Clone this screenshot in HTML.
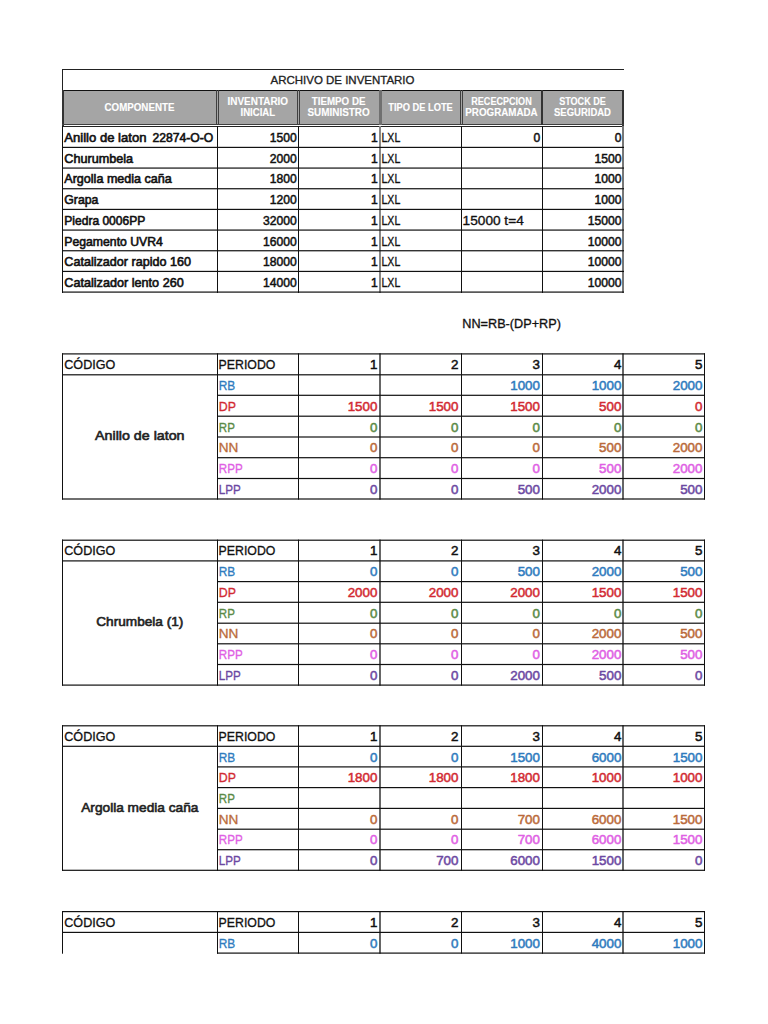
<!DOCTYPE html>
<html><head><meta charset="utf-8">
<style>
html,body{margin:0;padding:0;background:#fff;}
body{width:768px;height:1024px;overflow:hidden;}
svg{display:block;font-family:"Liberation Sans",sans-serif;}
</style></head>
<body>
<svg width="768" height="1024" viewBox="0 0 768 1024" xml:space="preserve" style="white-space:pre">
<rect x="62" y="69.00" width="562" height="1.00" fill="#222"/>
<rect x="62" y="69.00" width="1" height="22.00" fill="#222"/>
<rect x="62" y="90.00" width="562" height="1.00" fill="#111"/>
<text x="342.50" y="84.10" font-size="11.80" fill="#222" stroke="#222" stroke-width="0.32" text-anchor="middle" textLength="143.99" lengthAdjust="spacingAndGlyphs">ARCHIVO DE INVENTARIO</text>
<rect x="63" y="91.00" width="559" height="33.00" fill="#A5A5A5"/>
<rect x="62" y="90.00" width="2" height="37.00" fill="#333"/>
<rect x="622" y="90.00" width="2" height="37.00" fill="#333"/>
<rect x="62" y="124.00" width="562" height="1.00" fill="#3f3f3f"/>
<rect x="62" y="126.00" width="562" height="1.00" fill="#222"/>
<rect x="216" y="90.00" width="1" height="35.00" fill="#3f3f3f"/>
<rect x="218" y="90.00" width="1" height="35.00" fill="#3f3f3f"/>
<rect x="297" y="90.00" width="1" height="35.00" fill="#3f3f3f"/>
<rect x="299" y="90.00" width="1" height="35.00" fill="#3f3f3f"/>
<rect x="460" y="90.00" width="1" height="35.00" fill="#3f3f3f"/>
<rect x="462" y="90.00" width="1" height="35.00" fill="#3f3f3f"/>
<rect x="379" y="90.00" width="3" height="35.00" fill="#707070"/>
<rect x="541" y="90.00" width="2" height="35.00" fill="#333"/>
<text x="139.50" y="111.00" font-size="10.03" font-weight="bold" fill="#fff" stroke="#fff" stroke-width="0.12" text-anchor="middle" textLength="69.85" lengthAdjust="spacingAndGlyphs">COMPONENTE</text>
<text x="257.80" y="104.70" font-size="10.03" font-weight="bold" fill="#fff" stroke="#fff" stroke-width="0.12" text-anchor="middle" textLength="60.60" lengthAdjust="spacingAndGlyphs">INVENTARIO</text>
<text x="257.80" y="115.70" font-size="10.03" font-weight="bold" fill="#fff" stroke="#fff" stroke-width="0.12" text-anchor="middle" textLength="34.63" lengthAdjust="spacingAndGlyphs">INICIAL</text>
<text x="338.60" y="104.70" font-size="10.03" font-weight="bold" fill="#fff" stroke="#fff" stroke-width="0.12" text-anchor="middle" textLength="53.76" lengthAdjust="spacingAndGlyphs">TIEMPO DE</text>
<text x="338.60" y="115.70" font-size="10.03" font-weight="bold" fill="#fff" stroke="#fff" stroke-width="0.12" text-anchor="middle" textLength="62.16" lengthAdjust="spacingAndGlyphs">SUMINISTRO</text>
<text x="420.50" y="111.00" font-size="10.03" font-weight="bold" fill="#fff" stroke="#fff" stroke-width="0.12" text-anchor="middle" textLength="64.58" lengthAdjust="spacingAndGlyphs">TIPO DE LOTE</text>
<text x="501.50" y="104.70" font-size="10.03" font-weight="bold" fill="#fff" stroke="#fff" stroke-width="0.12" text-anchor="middle" textLength="60.46" lengthAdjust="spacingAndGlyphs">RECECPCION</text>
<text x="501.50" y="115.70" font-size="10.03" font-weight="bold" fill="#fff" stroke="#fff" stroke-width="0.12" text-anchor="middle" textLength="72.36" lengthAdjust="spacingAndGlyphs">PROGRAMADA</text>
<text x="582.50" y="104.70" font-size="10.03" font-weight="bold" fill="#fff" stroke="#fff" stroke-width="0.12" text-anchor="middle" textLength="46.70" lengthAdjust="spacingAndGlyphs">STOCK DE</text>
<text x="582.50" y="115.70" font-size="10.03" font-weight="bold" fill="#fff" stroke="#fff" stroke-width="0.12" text-anchor="middle" textLength="56.97" lengthAdjust="spacingAndGlyphs">SEGURIDAD</text>
<rect x="62" y="126.00" width="1" height="167.00" fill="#111"/>
<rect x="217" y="126.00" width="1" height="167.00" fill="#111"/>
<rect x="298" y="126.00" width="1" height="167.00" fill="#111"/>
<rect x="461" y="126.00" width="1" height="167.00" fill="#111"/>
<rect x="542" y="126.00" width="1" height="167.00" fill="#111"/>
<rect x="379" y="126.00" width="2" height="167.00" fill="#888"/>
<rect x="622" y="126.00" width="2" height="167.00" fill="#777"/>
<rect x="62" y="146.80" width="562" height="1.20" fill="#111"/>
<rect x="62" y="167.47" width="562" height="1.20" fill="#111"/>
<rect x="62" y="188.14" width="562" height="1.20" fill="#111"/>
<rect x="62" y="208.81" width="562" height="1.20" fill="#111"/>
<rect x="62" y="229.48" width="562" height="1.20" fill="#111"/>
<rect x="62" y="250.15" width="562" height="1.20" fill="#111"/>
<rect x="62" y="270.82" width="562" height="1.20" fill="#111"/>
<rect x="62" y="291.49" width="562" height="1.20" fill="#111"/>
<text x="64.30" y="141.75" font-size="12.26" fill="#111" stroke="#111" stroke-width="0.6" text-anchor="start" textLength="82.14" lengthAdjust="spacingAndGlyphs">Anillo de laton</text>
<text x="213.30" y="141.75" font-size="12.26" fill="#111" stroke="#111" stroke-width="0.6" text-anchor="end" textLength="60.86" lengthAdjust="spacingAndGlyphs">22874-O-O</text>
<text x="296.80" y="141.75" font-size="12.26" fill="#111" stroke="#111" stroke-width="0.5" text-anchor="end" textLength="27.02" lengthAdjust="spacingAndGlyphs">1500</text>
<text x="377.80" y="141.75" font-size="12.26" fill="#111" stroke="#111" stroke-width="0.5" text-anchor="end" textLength="6.76" lengthAdjust="spacingAndGlyphs">1</text>
<text x="381.50" y="141.75" font-size="12.26" fill="#111" stroke="#111" stroke-width="0.32" text-anchor="start" textLength="18.76" lengthAdjust="spacingAndGlyphs">LXL</text>
<text x="540.20" y="141.75" font-size="12.26" fill="#111" stroke="#111" stroke-width="0.5" text-anchor="end" textLength="6.76" lengthAdjust="spacingAndGlyphs">0</text>
<text x="621.60" y="141.75" font-size="12.26" fill="#111" stroke="#111" stroke-width="0.5" text-anchor="end" textLength="6.76" lengthAdjust="spacingAndGlyphs">0</text>
<text x="64.30" y="162.50" font-size="12.26" fill="#111" stroke="#111" stroke-width="0.6" text-anchor="start" textLength="68.85" lengthAdjust="spacingAndGlyphs">Churumbela</text>
<text x="296.80" y="162.50" font-size="12.26" fill="#111" stroke="#111" stroke-width="0.5" text-anchor="end" textLength="27.02" lengthAdjust="spacingAndGlyphs">2000</text>
<text x="377.80" y="162.50" font-size="12.26" fill="#111" stroke="#111" stroke-width="0.5" text-anchor="end" textLength="6.76" lengthAdjust="spacingAndGlyphs">1</text>
<text x="381.50" y="162.50" font-size="12.26" fill="#111" stroke="#111" stroke-width="0.32" text-anchor="start" textLength="18.76" lengthAdjust="spacingAndGlyphs">LXL</text>
<text x="621.60" y="162.50" font-size="12.26" fill="#111" stroke="#111" stroke-width="0.5" text-anchor="end" textLength="27.02" lengthAdjust="spacingAndGlyphs">1500</text>
<text x="64.30" y="183.25" font-size="12.26" fill="#111" stroke="#111" stroke-width="0.6" text-anchor="start" textLength="107.51" lengthAdjust="spacingAndGlyphs">Argolla media caña</text>
<text x="296.80" y="183.25" font-size="12.26" fill="#111" stroke="#111" stroke-width="0.5" text-anchor="end" textLength="27.02" lengthAdjust="spacingAndGlyphs">1800</text>
<text x="377.80" y="183.25" font-size="12.26" fill="#111" stroke="#111" stroke-width="0.5" text-anchor="end" textLength="6.76" lengthAdjust="spacingAndGlyphs">1</text>
<text x="381.50" y="183.25" font-size="12.26" fill="#111" stroke="#111" stroke-width="0.32" text-anchor="start" textLength="18.76" lengthAdjust="spacingAndGlyphs">LXL</text>
<text x="621.60" y="183.25" font-size="12.26" fill="#111" stroke="#111" stroke-width="0.5" text-anchor="end" textLength="27.02" lengthAdjust="spacingAndGlyphs">1000</text>
<text x="64.30" y="204.00" font-size="12.26" fill="#111" stroke="#111" stroke-width="0.6" text-anchor="start" textLength="34.10" lengthAdjust="spacingAndGlyphs">Grapa</text>
<text x="296.80" y="204.00" font-size="12.26" fill="#111" stroke="#111" stroke-width="0.5" text-anchor="end" textLength="27.02" lengthAdjust="spacingAndGlyphs">1200</text>
<text x="377.80" y="204.00" font-size="12.26" fill="#111" stroke="#111" stroke-width="0.5" text-anchor="end" textLength="6.76" lengthAdjust="spacingAndGlyphs">1</text>
<text x="381.50" y="204.00" font-size="12.26" fill="#111" stroke="#111" stroke-width="0.32" text-anchor="start" textLength="18.76" lengthAdjust="spacingAndGlyphs">LXL</text>
<text x="621.60" y="204.00" font-size="12.26" fill="#111" stroke="#111" stroke-width="0.5" text-anchor="end" textLength="27.02" lengthAdjust="spacingAndGlyphs">1000</text>
<text x="64.30" y="224.75" font-size="12.26" fill="#111" stroke="#111" stroke-width="0.6" text-anchor="start" textLength="80.97" lengthAdjust="spacingAndGlyphs">Piedra 0006PP</text>
<text x="296.80" y="224.75" font-size="12.26" fill="#111" stroke="#111" stroke-width="0.5" text-anchor="end" textLength="33.78" lengthAdjust="spacingAndGlyphs">32000</text>
<text x="377.80" y="224.75" font-size="12.26" fill="#111" stroke="#111" stroke-width="0.5" text-anchor="end" textLength="6.76" lengthAdjust="spacingAndGlyphs">1</text>
<text x="381.50" y="224.75" font-size="12.26" fill="#111" stroke="#111" stroke-width="0.32" text-anchor="start" textLength="18.76" lengthAdjust="spacingAndGlyphs">LXL</text>
<text x="462.60" y="224.75" font-size="12.98" fill="#111" stroke="#111" stroke-width="0.32" text-anchor="start" textLength="61.14" lengthAdjust="spacingAndGlyphs">15000 t=4</text>
<text x="621.60" y="224.75" font-size="12.26" fill="#111" stroke="#111" stroke-width="0.5" text-anchor="end" textLength="33.78" lengthAdjust="spacingAndGlyphs">15000</text>
<text x="64.30" y="245.50" font-size="12.26" fill="#111" stroke="#111" stroke-width="0.6" text-anchor="start" textLength="98.59" lengthAdjust="spacingAndGlyphs">Pegamento UVR4</text>
<text x="296.80" y="245.50" font-size="12.26" fill="#111" stroke="#111" stroke-width="0.5" text-anchor="end" textLength="33.78" lengthAdjust="spacingAndGlyphs">16000</text>
<text x="377.80" y="245.50" font-size="12.26" fill="#111" stroke="#111" stroke-width="0.5" text-anchor="end" textLength="6.76" lengthAdjust="spacingAndGlyphs">1</text>
<text x="381.50" y="245.50" font-size="12.26" fill="#111" stroke="#111" stroke-width="0.32" text-anchor="start" textLength="18.76" lengthAdjust="spacingAndGlyphs">LXL</text>
<text x="621.60" y="245.50" font-size="12.26" fill="#111" stroke="#111" stroke-width="0.5" text-anchor="end" textLength="33.78" lengthAdjust="spacingAndGlyphs">10000</text>
<text x="64.30" y="266.25" font-size="12.26" fill="#111" stroke="#111" stroke-width="0.6" text-anchor="start" textLength="126.70" lengthAdjust="spacingAndGlyphs">Catalizador rapido 160</text>
<text x="296.80" y="266.25" font-size="12.26" fill="#111" stroke="#111" stroke-width="0.5" text-anchor="end" textLength="33.78" lengthAdjust="spacingAndGlyphs">18000</text>
<text x="377.80" y="266.25" font-size="12.26" fill="#111" stroke="#111" stroke-width="0.5" text-anchor="end" textLength="6.76" lengthAdjust="spacingAndGlyphs">1</text>
<text x="381.50" y="266.25" font-size="12.26" fill="#111" stroke="#111" stroke-width="0.32" text-anchor="start" textLength="18.76" lengthAdjust="spacingAndGlyphs">LXL</text>
<text x="621.60" y="266.25" font-size="12.26" fill="#111" stroke="#111" stroke-width="0.5" text-anchor="end" textLength="33.78" lengthAdjust="spacingAndGlyphs">10000</text>
<text x="64.30" y="287.00" font-size="12.26" fill="#111" stroke="#111" stroke-width="0.6" text-anchor="start" textLength="119.44" lengthAdjust="spacingAndGlyphs">Catalizador lento 260</text>
<text x="296.80" y="287.00" font-size="12.26" fill="#111" stroke="#111" stroke-width="0.5" text-anchor="end" textLength="33.78" lengthAdjust="spacingAndGlyphs">14000</text>
<text x="377.80" y="287.00" font-size="12.26" fill="#111" stroke="#111" stroke-width="0.5" text-anchor="end" textLength="6.76" lengthAdjust="spacingAndGlyphs">1</text>
<text x="381.50" y="287.00" font-size="12.26" fill="#111" stroke="#111" stroke-width="0.32" text-anchor="start" textLength="18.76" lengthAdjust="spacingAndGlyphs">LXL</text>
<text x="621.60" y="287.00" font-size="12.26" fill="#111" stroke="#111" stroke-width="0.5" text-anchor="end" textLength="33.78" lengthAdjust="spacingAndGlyphs">10000</text>
<text x="462.30" y="328.00" font-size="12.98" fill="#111" stroke="#111" stroke-width="0.32" text-anchor="start" textLength="98.63" lengthAdjust="spacingAndGlyphs">NN=RB-(DP+RP)</text>
<rect x="62" y="353.30" width="1" height="146.30" fill="#111"/>
<rect x="217" y="353.30" width="1" height="146.30" fill="#111"/>
<rect x="298" y="353.30" width="1" height="146.30" fill="#111"/>
<rect x="379" y="353.30" width="2" height="146.30" fill="#666"/>
<rect x="461" y="353.30" width="1" height="146.30" fill="#111"/>
<rect x="542" y="353.30" width="1" height="146.30" fill="#111"/>
<rect x="622" y="353.30" width="2" height="146.30" fill="#666"/>
<rect x="704" y="353.30" width="1" height="146.30" fill="#111"/>
<rect x="62" y="353.30" width="643" height="1.20" fill="#111"/>
<rect x="62" y="374.20" width="643" height="1.20" fill="#111"/>
<rect x="217" y="394.70" width="488" height="1.20" fill="#111"/>
<rect x="217" y="415.60" width="488" height="1.20" fill="#111"/>
<rect x="217" y="436.40" width="488" height="1.20" fill="#111"/>
<rect x="217" y="457.10" width="488" height="1.20" fill="#111"/>
<rect x="217" y="477.90" width="488" height="1.20" fill="#111"/>
<rect x="62" y="498.40" width="643" height="1.20" fill="#111"/>
<text x="64.30" y="369.00" font-size="12.98" fill="#111" stroke="#111" stroke-width="0.32" text-anchor="start" textLength="50.95" lengthAdjust="spacingAndGlyphs">CÓDIGO</text>
<text x="218.60" y="369.00" font-size="12.98" fill="#111" stroke="#111" stroke-width="0.32" text-anchor="start" textLength="56.77" lengthAdjust="spacingAndGlyphs">PERIODO</text>
<text x="377.40" y="369.00" font-size="12.98" fill="#111" stroke="#111" stroke-width="0.5" text-anchor="end" textLength="7.44" lengthAdjust="spacingAndGlyphs">1</text>
<text x="458.50" y="369.00" font-size="12.98" fill="#111" stroke="#111" stroke-width="0.5" text-anchor="end" textLength="7.44" lengthAdjust="spacingAndGlyphs">2</text>
<text x="540.00" y="369.00" font-size="12.98" fill="#111" stroke="#111" stroke-width="0.5" text-anchor="end" textLength="7.44" lengthAdjust="spacingAndGlyphs">3</text>
<text x="621.40" y="369.00" font-size="12.98" fill="#111" stroke="#111" stroke-width="0.5" text-anchor="end" textLength="7.44" lengthAdjust="spacingAndGlyphs">4</text>
<text x="702.50" y="369.00" font-size="12.98" fill="#111" stroke="#111" stroke-width="0.5" text-anchor="end" textLength="7.44" lengthAdjust="spacingAndGlyphs">5</text>
<text x="218.80" y="389.90" font-size="12.98" fill="#2E7BBE" stroke="#2E7BBE" stroke-width="0.32" text-anchor="start" textLength="16.50" lengthAdjust="spacingAndGlyphs">RB</text>
<text x="540.00" y="389.90" font-size="12.98" fill="#2E7BBE" stroke="#2E7BBE" stroke-width="0.5" text-anchor="end" textLength="29.74" lengthAdjust="spacingAndGlyphs">1000</text>
<text x="621.40" y="389.90" font-size="12.98" fill="#2E7BBE" stroke="#2E7BBE" stroke-width="0.5" text-anchor="end" textLength="29.74" lengthAdjust="spacingAndGlyphs">1000</text>
<text x="702.50" y="389.90" font-size="12.98" fill="#2E7BBE" stroke="#2E7BBE" stroke-width="0.5" text-anchor="end" textLength="29.74" lengthAdjust="spacingAndGlyphs">2000</text>
<text x="218.80" y="410.80" font-size="12.98" fill="#D22A32" stroke="#D22A32" stroke-width="0.32" text-anchor="start" textLength="17.19" lengthAdjust="spacingAndGlyphs">DP</text>
<text x="377.40" y="410.80" font-size="12.98" fill="#D22A32" stroke="#D22A32" stroke-width="0.5" text-anchor="end" textLength="29.74" lengthAdjust="spacingAndGlyphs">1500</text>
<text x="458.50" y="410.80" font-size="12.98" fill="#D22A32" stroke="#D22A32" stroke-width="0.5" text-anchor="end" textLength="29.74" lengthAdjust="spacingAndGlyphs">1500</text>
<text x="540.00" y="410.80" font-size="12.98" fill="#D22A32" stroke="#D22A32" stroke-width="0.5" text-anchor="end" textLength="29.74" lengthAdjust="spacingAndGlyphs">1500</text>
<text x="621.40" y="410.80" font-size="12.98" fill="#D22A32" stroke="#D22A32" stroke-width="0.5" text-anchor="end" textLength="22.31" lengthAdjust="spacingAndGlyphs">500</text>
<text x="702.50" y="410.80" font-size="12.98" fill="#D22A32" stroke="#D22A32" stroke-width="0.5" text-anchor="end" textLength="7.44" lengthAdjust="spacingAndGlyphs">0</text>
<text x="218.80" y="431.60" font-size="12.98" fill="#5A8A46" stroke="#5A8A46" stroke-width="0.32" text-anchor="start" textLength="16.09" lengthAdjust="spacingAndGlyphs">RP</text>
<text x="377.40" y="431.60" font-size="12.98" fill="#5A8A46" stroke="#5A8A46" stroke-width="0.5" text-anchor="end" textLength="7.44" lengthAdjust="spacingAndGlyphs">0</text>
<text x="458.50" y="431.60" font-size="12.98" fill="#5A8A46" stroke="#5A8A46" stroke-width="0.5" text-anchor="end" textLength="7.44" lengthAdjust="spacingAndGlyphs">0</text>
<text x="540.00" y="431.60" font-size="12.98" fill="#5A8A46" stroke="#5A8A46" stroke-width="0.5" text-anchor="end" textLength="7.44" lengthAdjust="spacingAndGlyphs">0</text>
<text x="621.40" y="431.60" font-size="12.98" fill="#5A8A46" stroke="#5A8A46" stroke-width="0.5" text-anchor="end" textLength="7.44" lengthAdjust="spacingAndGlyphs">0</text>
<text x="702.50" y="431.60" font-size="12.98" fill="#5A8A46" stroke="#5A8A46" stroke-width="0.5" text-anchor="end" textLength="7.44" lengthAdjust="spacingAndGlyphs">0</text>
<text x="218.80" y="452.30" font-size="12.98" fill="#BA6A3A" stroke="#BA6A3A" stroke-width="0.32" text-anchor="start" textLength="19.60" lengthAdjust="spacingAndGlyphs">NN</text>
<text x="377.40" y="452.30" font-size="12.98" fill="#BA6A3A" stroke="#BA6A3A" stroke-width="0.5" text-anchor="end" textLength="7.44" lengthAdjust="spacingAndGlyphs">0</text>
<text x="458.50" y="452.30" font-size="12.98" fill="#BA6A3A" stroke="#BA6A3A" stroke-width="0.5" text-anchor="end" textLength="7.44" lengthAdjust="spacingAndGlyphs">0</text>
<text x="540.00" y="452.30" font-size="12.98" fill="#BA6A3A" stroke="#BA6A3A" stroke-width="0.5" text-anchor="end" textLength="7.44" lengthAdjust="spacingAndGlyphs">0</text>
<text x="621.40" y="452.30" font-size="12.98" fill="#BA6A3A" stroke="#BA6A3A" stroke-width="0.5" text-anchor="end" textLength="22.31" lengthAdjust="spacingAndGlyphs">500</text>
<text x="702.50" y="452.30" font-size="12.98" fill="#BA6A3A" stroke="#BA6A3A" stroke-width="0.5" text-anchor="end" textLength="29.74" lengthAdjust="spacingAndGlyphs">2000</text>
<text x="218.80" y="473.10" font-size="12.98" fill="#E060E4" stroke="#E060E4" stroke-width="0.32" text-anchor="start" textLength="23.93" lengthAdjust="spacingAndGlyphs">RPP</text>
<text x="377.40" y="473.10" font-size="12.98" fill="#E060E4" stroke="#E060E4" stroke-width="0.5" text-anchor="end" textLength="7.44" lengthAdjust="spacingAndGlyphs">0</text>
<text x="458.50" y="473.10" font-size="12.98" fill="#E060E4" stroke="#E060E4" stroke-width="0.5" text-anchor="end" textLength="7.44" lengthAdjust="spacingAndGlyphs">0</text>
<text x="540.00" y="473.10" font-size="12.98" fill="#E060E4" stroke="#E060E4" stroke-width="0.5" text-anchor="end" textLength="7.44" lengthAdjust="spacingAndGlyphs">0</text>
<text x="621.40" y="473.10" font-size="12.98" fill="#E060E4" stroke="#E060E4" stroke-width="0.5" text-anchor="end" textLength="22.31" lengthAdjust="spacingAndGlyphs">500</text>
<text x="702.50" y="473.10" font-size="12.98" fill="#E060E4" stroke="#E060E4" stroke-width="0.5" text-anchor="end" textLength="29.74" lengthAdjust="spacingAndGlyphs">2000</text>
<text x="218.80" y="493.60" font-size="12.98" fill="#6C48A2" stroke="#6C48A2" stroke-width="0.32" text-anchor="start" textLength="22.07" lengthAdjust="spacingAndGlyphs">LPP</text>
<text x="377.40" y="493.60" font-size="12.98" fill="#6C48A2" stroke="#6C48A2" stroke-width="0.5" text-anchor="end" textLength="7.44" lengthAdjust="spacingAndGlyphs">0</text>
<text x="458.50" y="493.60" font-size="12.98" fill="#6C48A2" stroke="#6C48A2" stroke-width="0.5" text-anchor="end" textLength="7.44" lengthAdjust="spacingAndGlyphs">0</text>
<text x="540.00" y="493.60" font-size="12.98" fill="#6C48A2" stroke="#6C48A2" stroke-width="0.5" text-anchor="end" textLength="22.31" lengthAdjust="spacingAndGlyphs">500</text>
<text x="621.40" y="493.60" font-size="12.98" fill="#6C48A2" stroke="#6C48A2" stroke-width="0.5" text-anchor="end" textLength="29.74" lengthAdjust="spacingAndGlyphs">2000</text>
<text x="702.50" y="493.60" font-size="12.98" fill="#6C48A2" stroke="#6C48A2" stroke-width="0.5" text-anchor="end" textLength="22.31" lengthAdjust="spacingAndGlyphs">500</text>
<text x="139.80" y="440.00" font-size="12.98" fill="#222" stroke="#222" stroke-width="0.6" text-anchor="middle" textLength="89.49" lengthAdjust="spacingAndGlyphs">Anillo de laton</text>
<rect x="62" y="539.60" width="1" height="146.10" fill="#111"/>
<rect x="217" y="539.60" width="1" height="146.10" fill="#111"/>
<rect x="298" y="539.60" width="1" height="146.10" fill="#111"/>
<rect x="379" y="539.60" width="2" height="146.10" fill="#666"/>
<rect x="461" y="539.60" width="1" height="146.10" fill="#111"/>
<rect x="542" y="539.60" width="1" height="146.10" fill="#111"/>
<rect x="622" y="539.60" width="2" height="146.10" fill="#666"/>
<rect x="704" y="539.60" width="1" height="146.10" fill="#111"/>
<rect x="62" y="539.60" width="643" height="1.20" fill="#111"/>
<rect x="62" y="560.30" width="643" height="1.20" fill="#111"/>
<rect x="217" y="581.00" width="488" height="1.20" fill="#111"/>
<rect x="217" y="601.70" width="488" height="1.20" fill="#111"/>
<rect x="217" y="622.60" width="488" height="1.20" fill="#111"/>
<rect x="217" y="643.20" width="488" height="1.20" fill="#111"/>
<rect x="217" y="663.90" width="488" height="1.20" fill="#111"/>
<rect x="62" y="684.50" width="643" height="1.20" fill="#111"/>
<text x="64.30" y="555.10" font-size="12.98" fill="#111" stroke="#111" stroke-width="0.32" text-anchor="start" textLength="50.95" lengthAdjust="spacingAndGlyphs">CÓDIGO</text>
<text x="218.60" y="555.10" font-size="12.98" fill="#111" stroke="#111" stroke-width="0.32" text-anchor="start" textLength="56.77" lengthAdjust="spacingAndGlyphs">PERIODO</text>
<text x="377.40" y="555.10" font-size="12.98" fill="#111" stroke="#111" stroke-width="0.5" text-anchor="end" textLength="7.44" lengthAdjust="spacingAndGlyphs">1</text>
<text x="458.50" y="555.10" font-size="12.98" fill="#111" stroke="#111" stroke-width="0.5" text-anchor="end" textLength="7.44" lengthAdjust="spacingAndGlyphs">2</text>
<text x="540.00" y="555.10" font-size="12.98" fill="#111" stroke="#111" stroke-width="0.5" text-anchor="end" textLength="7.44" lengthAdjust="spacingAndGlyphs">3</text>
<text x="621.40" y="555.10" font-size="12.98" fill="#111" stroke="#111" stroke-width="0.5" text-anchor="end" textLength="7.44" lengthAdjust="spacingAndGlyphs">4</text>
<text x="702.50" y="555.10" font-size="12.98" fill="#111" stroke="#111" stroke-width="0.5" text-anchor="end" textLength="7.44" lengthAdjust="spacingAndGlyphs">5</text>
<text x="218.80" y="576.20" font-size="12.98" fill="#2E7BBE" stroke="#2E7BBE" stroke-width="0.32" text-anchor="start" textLength="16.50" lengthAdjust="spacingAndGlyphs">RB</text>
<text x="377.40" y="576.20" font-size="12.98" fill="#2E7BBE" stroke="#2E7BBE" stroke-width="0.5" text-anchor="end" textLength="7.44" lengthAdjust="spacingAndGlyphs">0</text>
<text x="458.50" y="576.20" font-size="12.98" fill="#2E7BBE" stroke="#2E7BBE" stroke-width="0.5" text-anchor="end" textLength="7.44" lengthAdjust="spacingAndGlyphs">0</text>
<text x="540.00" y="576.20" font-size="12.98" fill="#2E7BBE" stroke="#2E7BBE" stroke-width="0.5" text-anchor="end" textLength="22.31" lengthAdjust="spacingAndGlyphs">500</text>
<text x="621.40" y="576.20" font-size="12.98" fill="#2E7BBE" stroke="#2E7BBE" stroke-width="0.5" text-anchor="end" textLength="29.74" lengthAdjust="spacingAndGlyphs">2000</text>
<text x="702.50" y="576.20" font-size="12.98" fill="#2E7BBE" stroke="#2E7BBE" stroke-width="0.5" text-anchor="end" textLength="22.31" lengthAdjust="spacingAndGlyphs">500</text>
<text x="218.80" y="596.90" font-size="12.98" fill="#D22A32" stroke="#D22A32" stroke-width="0.32" text-anchor="start" textLength="17.19" lengthAdjust="spacingAndGlyphs">DP</text>
<text x="377.40" y="596.90" font-size="12.98" fill="#D22A32" stroke="#D22A32" stroke-width="0.5" text-anchor="end" textLength="29.74" lengthAdjust="spacingAndGlyphs">2000</text>
<text x="458.50" y="596.90" font-size="12.98" fill="#D22A32" stroke="#D22A32" stroke-width="0.5" text-anchor="end" textLength="29.74" lengthAdjust="spacingAndGlyphs">2000</text>
<text x="540.00" y="596.90" font-size="12.98" fill="#D22A32" stroke="#D22A32" stroke-width="0.5" text-anchor="end" textLength="29.74" lengthAdjust="spacingAndGlyphs">2000</text>
<text x="621.40" y="596.90" font-size="12.98" fill="#D22A32" stroke="#D22A32" stroke-width="0.5" text-anchor="end" textLength="29.74" lengthAdjust="spacingAndGlyphs">1500</text>
<text x="702.50" y="596.90" font-size="12.98" fill="#D22A32" stroke="#D22A32" stroke-width="0.5" text-anchor="end" textLength="29.74" lengthAdjust="spacingAndGlyphs">1500</text>
<text x="218.80" y="617.80" font-size="12.98" fill="#5A8A46" stroke="#5A8A46" stroke-width="0.32" text-anchor="start" textLength="16.09" lengthAdjust="spacingAndGlyphs">RP</text>
<text x="377.40" y="617.80" font-size="12.98" fill="#5A8A46" stroke="#5A8A46" stroke-width="0.5" text-anchor="end" textLength="7.44" lengthAdjust="spacingAndGlyphs">0</text>
<text x="458.50" y="617.80" font-size="12.98" fill="#5A8A46" stroke="#5A8A46" stroke-width="0.5" text-anchor="end" textLength="7.44" lengthAdjust="spacingAndGlyphs">0</text>
<text x="540.00" y="617.80" font-size="12.98" fill="#5A8A46" stroke="#5A8A46" stroke-width="0.5" text-anchor="end" textLength="7.44" lengthAdjust="spacingAndGlyphs">0</text>
<text x="621.40" y="617.80" font-size="12.98" fill="#5A8A46" stroke="#5A8A46" stroke-width="0.5" text-anchor="end" textLength="7.44" lengthAdjust="spacingAndGlyphs">0</text>
<text x="702.50" y="617.80" font-size="12.98" fill="#5A8A46" stroke="#5A8A46" stroke-width="0.5" text-anchor="end" textLength="7.44" lengthAdjust="spacingAndGlyphs">0</text>
<text x="218.80" y="638.40" font-size="12.98" fill="#BA6A3A" stroke="#BA6A3A" stroke-width="0.32" text-anchor="start" textLength="19.60" lengthAdjust="spacingAndGlyphs">NN</text>
<text x="377.40" y="638.40" font-size="12.98" fill="#BA6A3A" stroke="#BA6A3A" stroke-width="0.5" text-anchor="end" textLength="7.44" lengthAdjust="spacingAndGlyphs">0</text>
<text x="458.50" y="638.40" font-size="12.98" fill="#BA6A3A" stroke="#BA6A3A" stroke-width="0.5" text-anchor="end" textLength="7.44" lengthAdjust="spacingAndGlyphs">0</text>
<text x="540.00" y="638.40" font-size="12.98" fill="#BA6A3A" stroke="#BA6A3A" stroke-width="0.5" text-anchor="end" textLength="7.44" lengthAdjust="spacingAndGlyphs">0</text>
<text x="621.40" y="638.40" font-size="12.98" fill="#BA6A3A" stroke="#BA6A3A" stroke-width="0.5" text-anchor="end" textLength="29.74" lengthAdjust="spacingAndGlyphs">2000</text>
<text x="702.50" y="638.40" font-size="12.98" fill="#BA6A3A" stroke="#BA6A3A" stroke-width="0.5" text-anchor="end" textLength="22.31" lengthAdjust="spacingAndGlyphs">500</text>
<text x="218.80" y="659.10" font-size="12.98" fill="#E060E4" stroke="#E060E4" stroke-width="0.32" text-anchor="start" textLength="23.93" lengthAdjust="spacingAndGlyphs">RPP</text>
<text x="377.40" y="659.10" font-size="12.98" fill="#E060E4" stroke="#E060E4" stroke-width="0.5" text-anchor="end" textLength="7.44" lengthAdjust="spacingAndGlyphs">0</text>
<text x="458.50" y="659.10" font-size="12.98" fill="#E060E4" stroke="#E060E4" stroke-width="0.5" text-anchor="end" textLength="7.44" lengthAdjust="spacingAndGlyphs">0</text>
<text x="540.00" y="659.10" font-size="12.98" fill="#E060E4" stroke="#E060E4" stroke-width="0.5" text-anchor="end" textLength="7.44" lengthAdjust="spacingAndGlyphs">0</text>
<text x="621.40" y="659.10" font-size="12.98" fill="#E060E4" stroke="#E060E4" stroke-width="0.5" text-anchor="end" textLength="29.74" lengthAdjust="spacingAndGlyphs">2000</text>
<text x="702.50" y="659.10" font-size="12.98" fill="#E060E4" stroke="#E060E4" stroke-width="0.5" text-anchor="end" textLength="22.31" lengthAdjust="spacingAndGlyphs">500</text>
<text x="218.80" y="679.70" font-size="12.98" fill="#6C48A2" stroke="#6C48A2" stroke-width="0.32" text-anchor="start" textLength="22.07" lengthAdjust="spacingAndGlyphs">LPP</text>
<text x="377.40" y="679.70" font-size="12.98" fill="#6C48A2" stroke="#6C48A2" stroke-width="0.5" text-anchor="end" textLength="7.44" lengthAdjust="spacingAndGlyphs">0</text>
<text x="458.50" y="679.70" font-size="12.98" fill="#6C48A2" stroke="#6C48A2" stroke-width="0.5" text-anchor="end" textLength="7.44" lengthAdjust="spacingAndGlyphs">0</text>
<text x="540.00" y="679.70" font-size="12.98" fill="#6C48A2" stroke="#6C48A2" stroke-width="0.5" text-anchor="end" textLength="29.74" lengthAdjust="spacingAndGlyphs">2000</text>
<text x="621.40" y="679.70" font-size="12.98" fill="#6C48A2" stroke="#6C48A2" stroke-width="0.5" text-anchor="end" textLength="22.31" lengthAdjust="spacingAndGlyphs">500</text>
<text x="702.50" y="679.70" font-size="12.98" fill="#6C48A2" stroke="#6C48A2" stroke-width="0.5" text-anchor="end" textLength="7.44" lengthAdjust="spacingAndGlyphs">0</text>
<text x="139.80" y="625.80" font-size="12.98" fill="#222" stroke="#222" stroke-width="0.6" text-anchor="middle" textLength="87.06" lengthAdjust="spacingAndGlyphs">Chrumbela (1)</text>
<rect x="62" y="725.20" width="1" height="145.70" fill="#111"/>
<rect x="217" y="725.20" width="1" height="145.70" fill="#111"/>
<rect x="298" y="725.20" width="1" height="145.70" fill="#111"/>
<rect x="379" y="725.20" width="2" height="145.70" fill="#666"/>
<rect x="461" y="725.20" width="1" height="145.70" fill="#111"/>
<rect x="542" y="725.20" width="1" height="145.70" fill="#111"/>
<rect x="622" y="725.20" width="2" height="145.70" fill="#666"/>
<rect x="704" y="725.20" width="1" height="145.70" fill="#111"/>
<rect x="62" y="725.20" width="643" height="1.20" fill="#111"/>
<rect x="62" y="745.70" width="643" height="1.20" fill="#111"/>
<rect x="217" y="766.30" width="488" height="1.20" fill="#111"/>
<rect x="217" y="787.00" width="488" height="1.20" fill="#111"/>
<rect x="217" y="807.80" width="488" height="1.20" fill="#111"/>
<rect x="217" y="828.60" width="488" height="1.20" fill="#111"/>
<rect x="217" y="849.10" width="488" height="1.20" fill="#111"/>
<rect x="62" y="869.70" width="643" height="1.20" fill="#111"/>
<text x="64.30" y="740.50" font-size="12.98" fill="#111" stroke="#111" stroke-width="0.32" text-anchor="start" textLength="50.95" lengthAdjust="spacingAndGlyphs">CÓDIGO</text>
<text x="218.60" y="740.50" font-size="12.98" fill="#111" stroke="#111" stroke-width="0.32" text-anchor="start" textLength="56.77" lengthAdjust="spacingAndGlyphs">PERIODO</text>
<text x="377.40" y="740.50" font-size="12.98" fill="#111" stroke="#111" stroke-width="0.5" text-anchor="end" textLength="7.44" lengthAdjust="spacingAndGlyphs">1</text>
<text x="458.50" y="740.50" font-size="12.98" fill="#111" stroke="#111" stroke-width="0.5" text-anchor="end" textLength="7.44" lengthAdjust="spacingAndGlyphs">2</text>
<text x="540.00" y="740.50" font-size="12.98" fill="#111" stroke="#111" stroke-width="0.5" text-anchor="end" textLength="7.44" lengthAdjust="spacingAndGlyphs">3</text>
<text x="621.40" y="740.50" font-size="12.98" fill="#111" stroke="#111" stroke-width="0.5" text-anchor="end" textLength="7.44" lengthAdjust="spacingAndGlyphs">4</text>
<text x="702.50" y="740.50" font-size="12.98" fill="#111" stroke="#111" stroke-width="0.5" text-anchor="end" textLength="7.44" lengthAdjust="spacingAndGlyphs">5</text>
<text x="218.80" y="761.50" font-size="12.98" fill="#2E7BBE" stroke="#2E7BBE" stroke-width="0.32" text-anchor="start" textLength="16.50" lengthAdjust="spacingAndGlyphs">RB</text>
<text x="377.40" y="761.50" font-size="12.98" fill="#2E7BBE" stroke="#2E7BBE" stroke-width="0.5" text-anchor="end" textLength="7.44" lengthAdjust="spacingAndGlyphs">0</text>
<text x="458.50" y="761.50" font-size="12.98" fill="#2E7BBE" stroke="#2E7BBE" stroke-width="0.5" text-anchor="end" textLength="7.44" lengthAdjust="spacingAndGlyphs">0</text>
<text x="540.00" y="761.50" font-size="12.98" fill="#2E7BBE" stroke="#2E7BBE" stroke-width="0.5" text-anchor="end" textLength="29.74" lengthAdjust="spacingAndGlyphs">1500</text>
<text x="621.40" y="761.50" font-size="12.98" fill="#2E7BBE" stroke="#2E7BBE" stroke-width="0.5" text-anchor="end" textLength="29.74" lengthAdjust="spacingAndGlyphs">6000</text>
<text x="702.50" y="761.50" font-size="12.98" fill="#2E7BBE" stroke="#2E7BBE" stroke-width="0.5" text-anchor="end" textLength="29.74" lengthAdjust="spacingAndGlyphs">1500</text>
<text x="218.80" y="782.20" font-size="12.98" fill="#D22A32" stroke="#D22A32" stroke-width="0.32" text-anchor="start" textLength="17.19" lengthAdjust="spacingAndGlyphs">DP</text>
<text x="377.40" y="782.20" font-size="12.98" fill="#D22A32" stroke="#D22A32" stroke-width="0.5" text-anchor="end" textLength="29.74" lengthAdjust="spacingAndGlyphs">1800</text>
<text x="458.50" y="782.20" font-size="12.98" fill="#D22A32" stroke="#D22A32" stroke-width="0.5" text-anchor="end" textLength="29.74" lengthAdjust="spacingAndGlyphs">1800</text>
<text x="540.00" y="782.20" font-size="12.98" fill="#D22A32" stroke="#D22A32" stroke-width="0.5" text-anchor="end" textLength="29.74" lengthAdjust="spacingAndGlyphs">1800</text>
<text x="621.40" y="782.20" font-size="12.98" fill="#D22A32" stroke="#D22A32" stroke-width="0.5" text-anchor="end" textLength="29.74" lengthAdjust="spacingAndGlyphs">1000</text>
<text x="702.50" y="782.20" font-size="12.98" fill="#D22A32" stroke="#D22A32" stroke-width="0.5" text-anchor="end" textLength="29.74" lengthAdjust="spacingAndGlyphs">1000</text>
<text x="218.80" y="803.00" font-size="12.98" fill="#5A8A46" stroke="#5A8A46" stroke-width="0.32" text-anchor="start" textLength="16.09" lengthAdjust="spacingAndGlyphs">RP</text>
<text x="218.80" y="823.80" font-size="12.98" fill="#BA6A3A" stroke="#BA6A3A" stroke-width="0.32" text-anchor="start" textLength="19.60" lengthAdjust="spacingAndGlyphs">NN</text>
<text x="377.40" y="823.80" font-size="12.98" fill="#BA6A3A" stroke="#BA6A3A" stroke-width="0.5" text-anchor="end" textLength="7.44" lengthAdjust="spacingAndGlyphs">0</text>
<text x="458.50" y="823.80" font-size="12.98" fill="#BA6A3A" stroke="#BA6A3A" stroke-width="0.5" text-anchor="end" textLength="7.44" lengthAdjust="spacingAndGlyphs">0</text>
<text x="540.00" y="823.80" font-size="12.98" fill="#BA6A3A" stroke="#BA6A3A" stroke-width="0.5" text-anchor="end" textLength="22.31" lengthAdjust="spacingAndGlyphs">700</text>
<text x="621.40" y="823.80" font-size="12.98" fill="#BA6A3A" stroke="#BA6A3A" stroke-width="0.5" text-anchor="end" textLength="29.74" lengthAdjust="spacingAndGlyphs">6000</text>
<text x="702.50" y="823.80" font-size="12.98" fill="#BA6A3A" stroke="#BA6A3A" stroke-width="0.5" text-anchor="end" textLength="29.74" lengthAdjust="spacingAndGlyphs">1500</text>
<text x="218.80" y="844.30" font-size="12.98" fill="#E060E4" stroke="#E060E4" stroke-width="0.32" text-anchor="start" textLength="23.93" lengthAdjust="spacingAndGlyphs">RPP</text>
<text x="377.40" y="844.30" font-size="12.98" fill="#E060E4" stroke="#E060E4" stroke-width="0.5" text-anchor="end" textLength="7.44" lengthAdjust="spacingAndGlyphs">0</text>
<text x="458.50" y="844.30" font-size="12.98" fill="#E060E4" stroke="#E060E4" stroke-width="0.5" text-anchor="end" textLength="7.44" lengthAdjust="spacingAndGlyphs">0</text>
<text x="540.00" y="844.30" font-size="12.98" fill="#E060E4" stroke="#E060E4" stroke-width="0.5" text-anchor="end" textLength="22.31" lengthAdjust="spacingAndGlyphs">700</text>
<text x="621.40" y="844.30" font-size="12.98" fill="#E060E4" stroke="#E060E4" stroke-width="0.5" text-anchor="end" textLength="29.74" lengthAdjust="spacingAndGlyphs">6000</text>
<text x="702.50" y="844.30" font-size="12.98" fill="#E060E4" stroke="#E060E4" stroke-width="0.5" text-anchor="end" textLength="29.74" lengthAdjust="spacingAndGlyphs">1500</text>
<text x="218.80" y="864.90" font-size="12.98" fill="#6C48A2" stroke="#6C48A2" stroke-width="0.32" text-anchor="start" textLength="22.07" lengthAdjust="spacingAndGlyphs">LPP</text>
<text x="377.40" y="864.90" font-size="12.98" fill="#6C48A2" stroke="#6C48A2" stroke-width="0.5" text-anchor="end" textLength="7.44" lengthAdjust="spacingAndGlyphs">0</text>
<text x="458.50" y="864.90" font-size="12.98" fill="#6C48A2" stroke="#6C48A2" stroke-width="0.5" text-anchor="end" textLength="22.31" lengthAdjust="spacingAndGlyphs">700</text>
<text x="540.00" y="864.90" font-size="12.98" fill="#6C48A2" stroke="#6C48A2" stroke-width="0.5" text-anchor="end" textLength="29.74" lengthAdjust="spacingAndGlyphs">6000</text>
<text x="621.40" y="864.90" font-size="12.98" fill="#6C48A2" stroke="#6C48A2" stroke-width="0.5" text-anchor="end" textLength="29.74" lengthAdjust="spacingAndGlyphs">1500</text>
<text x="702.50" y="864.90" font-size="12.98" fill="#6C48A2" stroke="#6C48A2" stroke-width="0.5" text-anchor="end" textLength="7.44" lengthAdjust="spacingAndGlyphs">0</text>
<text x="139.80" y="811.50" font-size="12.98" fill="#222" stroke="#222" stroke-width="0.6" text-anchor="middle" textLength="117.13" lengthAdjust="spacingAndGlyphs">Argolla media caña</text>
<rect x="62" y="911.00" width="1" height="42.70" fill="#111"/>
<rect x="217" y="911.00" width="1" height="42.70" fill="#111"/>
<rect x="298" y="911.00" width="1" height="42.70" fill="#111"/>
<rect x="379" y="911.00" width="2" height="42.70" fill="#666"/>
<rect x="461" y="911.00" width="1" height="42.70" fill="#111"/>
<rect x="542" y="911.00" width="1" height="42.70" fill="#111"/>
<rect x="622" y="911.00" width="2" height="42.70" fill="#666"/>
<rect x="704" y="911.00" width="1" height="42.70" fill="#111"/>
<rect x="62" y="911.00" width="643" height="1.20" fill="#111"/>
<rect x="62" y="931.80" width="643" height="1.20" fill="#111"/>
<rect x="217" y="952.50" width="488" height="1.20" fill="#111"/>
<text x="64.30" y="926.60" font-size="12.98" fill="#111" stroke="#111" stroke-width="0.32" text-anchor="start" textLength="50.95" lengthAdjust="spacingAndGlyphs">CÓDIGO</text>
<text x="218.60" y="926.60" font-size="12.98" fill="#111" stroke="#111" stroke-width="0.32" text-anchor="start" textLength="56.77" lengthAdjust="spacingAndGlyphs">PERIODO</text>
<text x="377.40" y="926.60" font-size="12.98" fill="#111" stroke="#111" stroke-width="0.5" text-anchor="end" textLength="7.44" lengthAdjust="spacingAndGlyphs">1</text>
<text x="458.50" y="926.60" font-size="12.98" fill="#111" stroke="#111" stroke-width="0.5" text-anchor="end" textLength="7.44" lengthAdjust="spacingAndGlyphs">2</text>
<text x="540.00" y="926.60" font-size="12.98" fill="#111" stroke="#111" stroke-width="0.5" text-anchor="end" textLength="7.44" lengthAdjust="spacingAndGlyphs">3</text>
<text x="621.40" y="926.60" font-size="12.98" fill="#111" stroke="#111" stroke-width="0.5" text-anchor="end" textLength="7.44" lengthAdjust="spacingAndGlyphs">4</text>
<text x="702.50" y="926.60" font-size="12.98" fill="#111" stroke="#111" stroke-width="0.5" text-anchor="end" textLength="7.44" lengthAdjust="spacingAndGlyphs">5</text>
<text x="218.80" y="947.70" font-size="12.98" fill="#2E7BBE" stroke="#2E7BBE" stroke-width="0.32" text-anchor="start" textLength="16.50" lengthAdjust="spacingAndGlyphs">RB</text>
<text x="377.40" y="947.70" font-size="12.98" fill="#2E7BBE" stroke="#2E7BBE" stroke-width="0.5" text-anchor="end" textLength="7.44" lengthAdjust="spacingAndGlyphs">0</text>
<text x="458.50" y="947.70" font-size="12.98" fill="#2E7BBE" stroke="#2E7BBE" stroke-width="0.5" text-anchor="end" textLength="7.44" lengthAdjust="spacingAndGlyphs">0</text>
<text x="540.00" y="947.70" font-size="12.98" fill="#2E7BBE" stroke="#2E7BBE" stroke-width="0.5" text-anchor="end" textLength="29.74" lengthAdjust="spacingAndGlyphs">1000</text>
<text x="621.40" y="947.70" font-size="12.98" fill="#2E7BBE" stroke="#2E7BBE" stroke-width="0.5" text-anchor="end" textLength="29.74" lengthAdjust="spacingAndGlyphs">4000</text>
<text x="702.50" y="947.70" font-size="12.98" fill="#2E7BBE" stroke="#2E7BBE" stroke-width="0.5" text-anchor="end" textLength="29.74" lengthAdjust="spacingAndGlyphs">1000</text>
</svg>
</body></html>
